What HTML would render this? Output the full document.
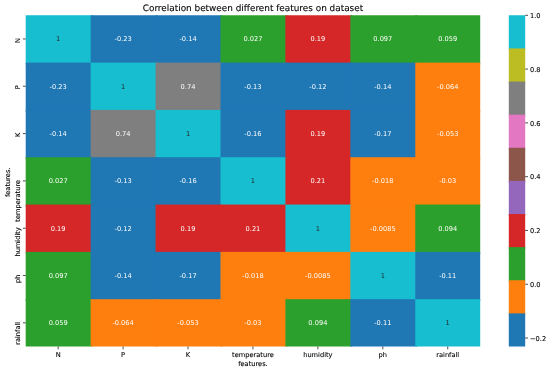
<!DOCTYPE html><html><head><meta charset="utf-8"><title>Correlation heatmap</title>
<style>html,body{margin:0;padding:0;background:#fff}svg{display:block}text{font-family:"DejaVu Sans","Liberation Sans",sans-serif;fill:#000;stroke:#000;stroke-width:0.1px;text-rendering:geometricPrecision}.a{font-size:6.65px;text-anchor:middle}.w{fill:#fff;stroke:none}.d{fill:#262626;stroke:none}.t{font-size:8.9px;text-anchor:middle}.l{font-size:6.65px}</style></head><body>
<svg width="550" height="372" viewBox="0 0 550 372">
<rect width="550" height="372" fill="#fff"/>
<defs><clipPath id="hm"><rect x="25.70" y="15.30" width="454.50" height="331.20"/></clipPath><clipPath id="cb"><rect x="508.80" y="15.30" width="16.40" height="331.20"/></clipPath></defs>
<g clip-path="url(#hm)">
<rect x="23.70" y="13.30" width="68.93" height="51.31" fill="#17becf"/>
<rect x="90.63" y="13.30" width="66.93" height="51.31" fill="#1f77b4"/>
<rect x="155.56" y="13.30" width="66.93" height="51.31" fill="#1f77b4"/>
<rect x="220.49" y="13.30" width="66.93" height="51.31" fill="#2ca02c"/>
<rect x="285.41" y="13.30" width="66.93" height="51.31" fill="#d62728"/>
<rect x="350.34" y="13.30" width="66.93" height="51.31" fill="#2ca02c"/>
<rect x="415.27" y="13.30" width="66.93" height="51.31" fill="#2ca02c"/>
<rect x="23.70" y="62.61" width="68.93" height="49.31" fill="#1f77b4"/>
<rect x="90.63" y="62.61" width="66.93" height="49.31" fill="#17becf"/>
<rect x="155.56" y="62.61" width="66.93" height="49.31" fill="#7f7f7f"/>
<rect x="220.49" y="62.61" width="66.93" height="49.31" fill="#1f77b4"/>
<rect x="285.41" y="62.61" width="66.93" height="49.31" fill="#1f77b4"/>
<rect x="350.34" y="62.61" width="66.93" height="49.31" fill="#1f77b4"/>
<rect x="415.27" y="62.61" width="66.93" height="49.31" fill="#ff7f0e"/>
<rect x="23.70" y="109.93" width="68.93" height="49.31" fill="#1f77b4"/>
<rect x="90.63" y="109.93" width="66.93" height="49.31" fill="#7f7f7f"/>
<rect x="155.56" y="109.93" width="66.93" height="49.31" fill="#17becf"/>
<rect x="220.49" y="109.93" width="66.93" height="49.31" fill="#1f77b4"/>
<rect x="285.41" y="109.93" width="66.93" height="49.31" fill="#d62728"/>
<rect x="350.34" y="109.93" width="66.93" height="49.31" fill="#1f77b4"/>
<rect x="415.27" y="109.93" width="66.93" height="49.31" fill="#ff7f0e"/>
<rect x="23.70" y="157.24" width="68.93" height="49.31" fill="#2ca02c"/>
<rect x="90.63" y="157.24" width="66.93" height="49.31" fill="#1f77b4"/>
<rect x="155.56" y="157.24" width="66.93" height="49.31" fill="#1f77b4"/>
<rect x="220.49" y="157.24" width="66.93" height="49.31" fill="#17becf"/>
<rect x="285.41" y="157.24" width="66.93" height="49.31" fill="#d62728"/>
<rect x="350.34" y="157.24" width="66.93" height="49.31" fill="#ff7f0e"/>
<rect x="415.27" y="157.24" width="66.93" height="49.31" fill="#ff7f0e"/>
<rect x="23.70" y="204.56" width="68.93" height="49.31" fill="#d62728"/>
<rect x="90.63" y="204.56" width="66.93" height="49.31" fill="#1f77b4"/>
<rect x="155.56" y="204.56" width="66.93" height="49.31" fill="#d62728"/>
<rect x="220.49" y="204.56" width="66.93" height="49.31" fill="#d62728"/>
<rect x="285.41" y="204.56" width="66.93" height="49.31" fill="#17becf"/>
<rect x="350.34" y="204.56" width="66.93" height="49.31" fill="#ff7f0e"/>
<rect x="415.27" y="204.56" width="66.93" height="49.31" fill="#2ca02c"/>
<rect x="23.70" y="251.87" width="68.93" height="49.31" fill="#2ca02c"/>
<rect x="90.63" y="251.87" width="66.93" height="49.31" fill="#1f77b4"/>
<rect x="155.56" y="251.87" width="66.93" height="49.31" fill="#1f77b4"/>
<rect x="220.49" y="251.87" width="66.93" height="49.31" fill="#ff7f0e"/>
<rect x="285.41" y="251.87" width="66.93" height="49.31" fill="#ff7f0e"/>
<rect x="350.34" y="251.87" width="66.93" height="49.31" fill="#17becf"/>
<rect x="415.27" y="251.87" width="66.93" height="49.31" fill="#1f77b4"/>
<rect x="23.70" y="299.19" width="68.93" height="49.31" fill="#2ca02c"/>
<rect x="90.63" y="299.19" width="66.93" height="49.31" fill="#ff7f0e"/>
<rect x="155.56" y="299.19" width="66.93" height="49.31" fill="#ff7f0e"/>
<rect x="220.49" y="299.19" width="66.93" height="49.31" fill="#ff7f0e"/>
<rect x="285.41" y="299.19" width="66.93" height="49.31" fill="#2ca02c"/>
<rect x="350.34" y="299.19" width="66.93" height="49.31" fill="#1f77b4"/>
<rect x="415.27" y="299.19" width="66.93" height="49.31" fill="#17becf"/>
</g>
<text class="a d" x="58.16" y="41.35">1</text>
<text class="a w" x="123.09" y="41.35">-0.23</text>
<text class="a w" x="188.02" y="41.35">-0.14</text>
<text class="a w" x="252.95" y="41.35">0.027</text>
<text class="a w" x="317.88" y="41.35">0.19</text>
<text class="a w" x="382.81" y="41.35">0.097</text>
<text class="a w" x="447.74" y="41.35">0.059</text>
<text class="a w" x="58.16" y="88.67">-0.23</text>
<text class="a d" x="123.09" y="88.67">1</text>
<text class="a w" x="188.02" y="88.67">0.74</text>
<text class="a w" x="252.95" y="88.67">-0.13</text>
<text class="a w" x="317.88" y="88.67">-0.12</text>
<text class="a w" x="382.81" y="88.67">-0.14</text>
<text class="a w" x="447.74" y="88.67">-0.064</text>
<text class="a w" x="58.16" y="135.98">-0.14</text>
<text class="a w" x="123.09" y="135.98">0.74</text>
<text class="a d" x="188.02" y="135.98">1</text>
<text class="a w" x="252.95" y="135.98">-0.16</text>
<text class="a w" x="317.88" y="135.98">0.19</text>
<text class="a w" x="382.81" y="135.98">-0.17</text>
<text class="a w" x="447.74" y="135.98">-0.053</text>
<text class="a w" x="58.16" y="183.29">0.027</text>
<text class="a w" x="123.09" y="183.29">-0.13</text>
<text class="a w" x="188.02" y="183.29">-0.16</text>
<text class="a d" x="252.95" y="183.29">1</text>
<text class="a w" x="317.88" y="183.29">0.21</text>
<text class="a w" x="382.81" y="183.29">-0.018</text>
<text class="a w" x="447.74" y="183.29">-0.03</text>
<text class="a w" x="58.16" y="230.61">0.19</text>
<text class="a w" x="123.09" y="230.61">-0.12</text>
<text class="a w" x="188.02" y="230.61">0.19</text>
<text class="a w" x="252.95" y="230.61">0.21</text>
<text class="a d" x="317.88" y="230.61">1</text>
<text class="a w" x="382.81" y="230.61">-0.0085</text>
<text class="a w" x="447.74" y="230.61">0.094</text>
<text class="a w" x="58.16" y="277.92">0.097</text>
<text class="a w" x="123.09" y="277.92">-0.14</text>
<text class="a w" x="188.02" y="277.92">-0.17</text>
<text class="a w" x="252.95" y="277.92">-0.018</text>
<text class="a w" x="317.88" y="277.92">-0.0085</text>
<text class="a d" x="382.81" y="277.92">1</text>
<text class="a w" x="447.74" y="277.92">-0.11</text>
<text class="a w" x="58.16" y="325.24">0.059</text>
<text class="a w" x="123.09" y="325.24">-0.064</text>
<text class="a w" x="188.02" y="325.24">-0.053</text>
<text class="a w" x="252.95" y="325.24">-0.03</text>
<text class="a w" x="317.88" y="325.24">0.094</text>
<text class="a w" x="382.81" y="325.24">-0.11</text>
<text class="a d" x="447.74" y="325.24">1</text>
<text class="t" x="252.95" y="11.35">Correlation between different features on dataset</text>
<line x1="58.16" y1="346.50" x2="58.16" y2="349.30" stroke="#000" stroke-width="0.7"/>
<line x1="22.90" y1="38.96" x2="25.70" y2="38.96" stroke="#000" stroke-width="0.7"/>
<text class="l" text-anchor="middle" x="58.16" y="357.10">N</text>
<text class="l" text-anchor="end" transform="translate(19.70 37.96) rotate(-90)">N</text>
<line x1="123.09" y1="346.50" x2="123.09" y2="349.30" stroke="#000" stroke-width="0.7"/>
<line x1="22.90" y1="86.27" x2="25.70" y2="86.27" stroke="#000" stroke-width="0.7"/>
<text class="l" text-anchor="middle" x="123.09" y="357.10">P</text>
<text class="l" text-anchor="end" transform="translate(19.70 85.27) rotate(-90)">P</text>
<line x1="188.02" y1="346.50" x2="188.02" y2="349.30" stroke="#000" stroke-width="0.7"/>
<line x1="22.90" y1="133.59" x2="25.70" y2="133.59" stroke="#000" stroke-width="0.7"/>
<text class="l" text-anchor="middle" x="188.02" y="357.10">K</text>
<text class="l" text-anchor="end" transform="translate(19.70 132.59) rotate(-90)">K</text>
<line x1="252.95" y1="346.50" x2="252.95" y2="349.30" stroke="#000" stroke-width="0.7"/>
<line x1="22.90" y1="180.90" x2="25.70" y2="180.90" stroke="#000" stroke-width="0.7"/>
<text class="l" text-anchor="middle" x="252.95" y="357.10">temperature</text>
<text class="l" text-anchor="end" transform="translate(19.70 179.90) rotate(-90)">temperature</text>
<line x1="317.88" y1="346.50" x2="317.88" y2="349.30" stroke="#000" stroke-width="0.7"/>
<line x1="22.90" y1="228.21" x2="25.70" y2="228.21" stroke="#000" stroke-width="0.7"/>
<text class="l" text-anchor="middle" x="317.88" y="357.10">humidity</text>
<text class="l" text-anchor="end" transform="translate(19.70 227.21) rotate(-90)">humidity</text>
<line x1="382.81" y1="346.50" x2="382.81" y2="349.30" stroke="#000" stroke-width="0.7"/>
<line x1="22.90" y1="275.53" x2="25.70" y2="275.53" stroke="#000" stroke-width="0.7"/>
<text class="l" text-anchor="middle" x="382.81" y="357.10">ph</text>
<text class="l" text-anchor="end" transform="translate(19.70 274.53) rotate(-90)">ph</text>
<line x1="447.74" y1="346.50" x2="447.74" y2="349.30" stroke="#000" stroke-width="0.7"/>
<line x1="22.90" y1="322.84" x2="25.70" y2="322.84" stroke="#000" stroke-width="0.7"/>
<text class="l" text-anchor="middle" x="447.74" y="357.10">rainfall</text>
<text class="l" text-anchor="end" transform="translate(19.70 321.84) rotate(-90)">rainfall</text>
<text class="l" text-anchor="middle" x="252.95" y="366.40">features.</text>
<text class="l" text-anchor="middle" transform="translate(9.80 182.30) rotate(-90)">features.</text>
<g clip-path="url(#cb)">
<rect x="506.80" y="13.30" width="20.40" height="37.12" fill="#17becf"/>
<rect x="506.80" y="48.42" width="20.40" height="35.12" fill="#bcbd22"/>
<rect x="506.80" y="81.54" width="20.40" height="35.12" fill="#7f7f7f"/>
<rect x="506.80" y="114.66" width="20.40" height="35.12" fill="#e377c2"/>
<rect x="506.80" y="147.78" width="20.40" height="35.12" fill="#8c564b"/>
<rect x="506.80" y="180.90" width="20.40" height="35.12" fill="#9467bd"/>
<rect x="506.80" y="214.02" width="20.40" height="35.12" fill="#d62728"/>
<rect x="506.80" y="247.14" width="20.40" height="35.12" fill="#2ca02c"/>
<rect x="506.80" y="280.26" width="20.40" height="35.12" fill="#ff7f0e"/>
<rect x="506.80" y="313.38" width="20.40" height="35.12" fill="#1f77b4"/>
</g>
<line x1="525.20" y1="338.03" x2="528.00" y2="338.03" stroke="#000" stroke-width="0.7"/>
<text class="l" x="530.00" y="340.72">−0.2</text>
<line x1="525.20" y1="284.24" x2="528.00" y2="284.24" stroke="#000" stroke-width="0.7"/>
<text class="l" x="530.00" y="286.93">0.0</text>
<line x1="525.20" y1="230.45" x2="528.00" y2="230.45" stroke="#000" stroke-width="0.7"/>
<text class="l" x="530.00" y="233.15">0.2</text>
<line x1="525.20" y1="176.66" x2="528.00" y2="176.66" stroke="#000" stroke-width="0.7"/>
<text class="l" x="530.00" y="179.36">0.4</text>
<line x1="525.20" y1="122.88" x2="528.00" y2="122.88" stroke="#000" stroke-width="0.7"/>
<text class="l" x="530.00" y="125.57">0.6</text>
<line x1="525.20" y1="69.09" x2="528.00" y2="69.09" stroke="#000" stroke-width="0.7"/>
<text class="l" x="530.00" y="71.78">0.8</text>
<line x1="525.20" y1="15.30" x2="528.00" y2="15.30" stroke="#000" stroke-width="0.7"/>
<text class="l" x="530.00" y="17.99">1.0</text>
</svg></body></html>
